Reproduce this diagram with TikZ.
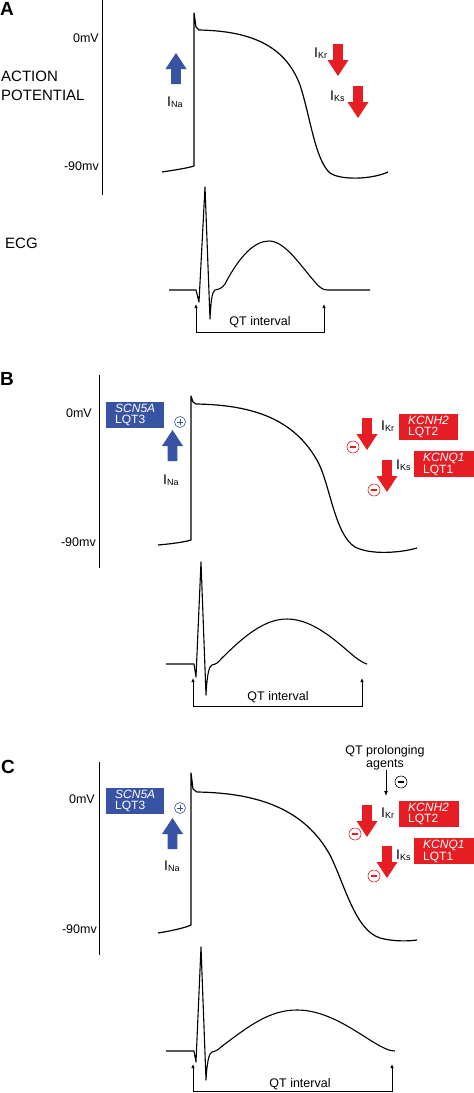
\documentclass[tikz,border=0pt]{standalone}
\usepackage{fontspec}
\setmainfont{Liberation Sans}
\usetikzlibrary{arrows.meta}
\definecolor{napblue}{RGB}{57,83,164}
\definecolor{kred}{RGB}{230,30,36}
\newcommand\fs[1]{\fontsize{#1}{#1}\selectfont}
\newcommand\curr[1]{{\fs{14}I}{\fs{9}\raisebox{-1.5pt}{#1}}}
\tikzset{
  curve/.style={line width=1.2pt, line join=round},
  ecg/.style={line width=1.1pt, line join=round},
  axisline/.style={line width=1pt},
  lbl/.style={inner sep=0pt, font=\fs{12.5}},
  big/.style={inner sep=0pt, font=\fs{15}},
  panel/.style={inner sep=0pt, font=\fs{19}\bfseries},
  cur/.style={inner sep=0pt, anchor=base west},
  qt/.style={line width=0.9pt, {Latex[length=4pt,width=3.5pt]}-{Latex[length=4pt,width=3.5pt]}},
  gbox/.style={fill=#1, text=white, rectangle, anchor=north west, inner xsep=9pt, inner ysep=0pt,
    minimum height=26pt, align=left, font=\fs{12}\linespread{0.88}\selectfont},
  pcirc/.style={circle, draw=napblue, line width=0.6pt, minimum size=11pt, inner sep=0pt,
    path picture={\draw[napblue, line width=1pt]
      ([xshift=-3pt]path picture bounding box.center) -- ([xshift=3pt]path picture bounding box.center)
      ([yshift=-3pt]path picture bounding box.center) -- ([yshift=3pt]path picture bounding box.center);}},
  mcirc/.style={circle, draw=#1, line width=0.6pt, minimum size=12pt, inner sep=0pt,
    path picture={\draw[#1, line width=1.3pt]
      ([xshift=-3.2pt]path picture bounding box.center) -- ([xshift=3.2pt]path picture bounding box.center);}},
  blockup/.pic={\fill[napblue] (0,0) -- (10.5,16) -- (4.8,16) -- (4.8,31) -- (-4.8,31) -- (-4.8,16) -- (-10.5,16) -- cycle;},
  blockdown/.pic={\fill[kred] (0,0) -- (10.5,-16) -- (4.8,-16) -- (4.8,-32) -- (-4.8,-32) -- (-4.8,-16) -- (-10.5,-16) -- cycle;}
}
\begin{document}
\begin{tikzpicture}[x=1pt,y=-1pt]
\useasboundingbox (0,0) rectangle (474,1093);
% ================= Panel A =================
\node[panel, anchor=base west] (pa) at (0,15) {A};
\coordinate (axa1) at (102,0); \coordinate (axa2) at (102,195);
\draw[axisline] (axa1) -- (axa2);
\node[lbl, anchor=base east] (zeroa) at (99,42) {0mV};
\node[lbl, anchor=base east] (ninea) at (99,170) {-90mv};
\node[big, anchor=base west] (acta) at (1,81) {ACTION};
\node[big, anchor=base west] (pota) at (1,100) {POTENTIAL};
\draw[curve] (162,172) .. controls (175,170) and (188,168) .. (194,166) -- (194,13) -- (196,27)
  -- (199,30) .. controls (250,31) and (285,45) .. (300,85)
  .. controls (310,115) and (315,160) .. (330,173)
  .. controls (340,180) and (370,180) .. (388,172);
\pic at (176,53) {blockup};
\node[cur] (ina) at (167,106) {\curr{Na}};
\pic at (338,76) {blockdown};
\node[cur] (ikra) at (314,57) {\curr{Kr}};
\pic at (358,118) {blockdown};
\node[cur] (iksa) at (330,100) {\curr{Ks}};
\node[big, anchor=base west] (ecga) at (5,248) {ECG};
\draw[ecg] (169,290) -- (196,290) -- (199,302) -- (205,187) -- (210,319)
  .. controls (211,300) and (212,292) .. (215,290)
  .. controls (220,289) and (222,288) .. (225,284)
  .. controls (240,255) and (255,241) .. (269,241)
  .. controls (285,241) and (300,265) .. (315,282)
  .. controls (320,288) and (323,290) .. (328,290) -- (370,290);
\coordinate (qa1) at (196,304); \coordinate (qa2) at (196,332);
\coordinate (qa3) at (324,332); \coordinate (qa4) at (324,304);
\draw[qt] (qa1) -- (qa2) -- (qa3) -- (qa4);
\node[inner sep=0pt, font=\fs{12.5}, anchor=base] (qta) at (260,325) {QT interval};
% ================= Panel B =================
\node[panel, anchor=base west] (pb) at (0,385) {B};
\coordinate (axb1) at (99,375); \coordinate (axb2) at (99,568);
\draw[axisline] (axb1) -- (axb2);
\node[lbl, anchor=base east] (zerob) at (92,417) {0mV};
\node[lbl, anchor=base east] (nineb) at (96,546) {-90mv};
\node[gbox=napblue, minimum width=58pt, text width=40pt] (scnb) at (106,402) {\textit{SCN5A}\\LQT3};
\node[pcirc] (plb) at (180,422) {};
\pic at (172.5,430) {blockup};
\node[cur] (inb) at (163,484) {\curr{Na}};
\draw[curve] (158,545) .. controls (170,544) and (185,542) .. (191,540) -- (191,396) -- (193,402)
  -- (196,404) .. controls (255,405) and (295,420) .. (318,462)
  .. controls (330,485) and (335,535) .. (355,547)
  .. controls (370,555) and (400,553) .. (417,548);
\pic at (367,450) {blockdown};
\node[cur] (ikrb) at (381,430) {\curr{Kr}};
\node[gbox=kred, minimum width=59pt, text width=41pt] (kcnhb) at (399,414) {\textit{KCNH2}\\LQT2};
\node[mcirc=kred] (mkrb) at (353,447) {};
\pic at (387,492) {blockdown};
\node[cur] (iksb) at (396,469) {\curr{Ks}};
\node[gbox=kred, minimum width=60pt, text width=42pt] (kcnqb) at (414,451) {\textit{KCNQ1}\\LQT1};
\node[mcirc=kred] (mksb) at (374,490) {};
\draw[ecg] (166,664) -- (194,664) -- (196,677) -- (201,562) -- (206,695)
  .. controls (207,675) and (209,666) .. (212,665)
  .. controls (216,664) and (218,663) .. (221,659)
  .. controls (245,635) and (265,619) .. (287,619)
  .. controls (315,619) and (340,645) .. (355,657)
  .. controls (360,661) and (364,663) .. (367,664);
\coordinate (qb1) at (193,678); \coordinate (qb2) at (193,706);
\coordinate (qb3) at (362,706); \coordinate (qb4) at (362,678);
\draw[qt] (qb1) -- (qb2) -- (qb3) -- (qb4);
\node[inner sep=0pt, font=\fs{12.5}, anchor=base] (qtb) at (278,700) {QT interval};
% ================= Panel C =================
\node[panel, anchor=base west] (pc) at (1,773) {C};
\coordinate (axc1) at (99,762); \coordinate (axc2) at (99,955);
\draw[axisline] (axc1) -- (axc2);
\node[lbl, anchor=base east] (zeroc) at (95,803) {0mV};
\node[lbl, anchor=base east] (ninec) at (97,933) {-90mv};
\node[gbox=napblue, minimum width=58pt, text width=40pt] (scnc) at (106,788) {\textit{SCN5A}\\LQT3};
\node[pcirc] (plc) at (180,808) {};
\pic at (172.5,818) {blockup};
\node[cur] (inc) at (164,870) {\curr{Na}};
\draw[curve] (158,933) .. controls (170,931) and (185,928) .. (191,925) -- (191,773) -- (193,789)
  -- (197,792) .. controls (260,793) and (305,810) .. (330,855)
  .. controls (345,885) and (355,930) .. (380,938)
  .. controls (395,942) and (410,941) .. (417,940);
\node[inner sep=0pt, font=\fs{12.5}, anchor=base] (qtp1) at (385,754) {QT prolonging};
\node[inner sep=0pt, font=\fs{12.5}, anchor=base] (qtp2) at (385,767) {agents};
\coordinate (ag1) at (386,770); \coordinate (ag2) at (386,796);
\draw[line width=0.9pt, -{Latex[length=5pt,width=4pt]}] (ag1) -- (ag2);
\node[mcirc=black] (mag) at (401,782) {};
\pic at (367,837) {blockdown};
\node[cur] (ikrc) at (381,817) {\curr{Kr}};
\node[gbox=kred, minimum width=60pt, text width=42pt] (kcnhc) at (399,801) {\textit{KCNH2}\\LQT2};
\node[mcirc=kred] (mkrc) at (355,834) {};
\pic at (387,878) {blockdown};
\node[cur] (iksc) at (396,859) {\curr{Ks}};
\node[gbox=kred, minimum width=60pt, text width=42pt] (kcnqc) at (414,838) {\textit{KCNQ1}\\LQT1};
\node[mcirc=kred] (mksc) at (374,876) {};
\draw[ecg] (166,1051) -- (194,1051) -- (196,1062) -- (201,947) -- (206,1080)
  .. controls (207,1062) and (209,1053) .. (212,1052)
  .. controls (216,1051) and (218,1050) .. (221,1047)
  .. controls (250,1025) and (270,1010) .. (297,1010)
  .. controls (330,1010) and (360,1035) .. (380,1046)
  .. controls (386,1049) and (390,1051) .. (395,1051);
\coordinate (qc1) at (193,1064); \coordinate (qc2) at (193,1091.5);
\coordinate (qc3) at (392,1091.5); \coordinate (qc4) at (392,1064);
\draw[qt] (qc1) -- (qc2) -- (qc3) -- (qc4);
\node[inner sep=0pt, font=\fs{12.5}, anchor=base] (qtc) at (300,1087) {QT interval};
\end{tikzpicture}
\end{document}
